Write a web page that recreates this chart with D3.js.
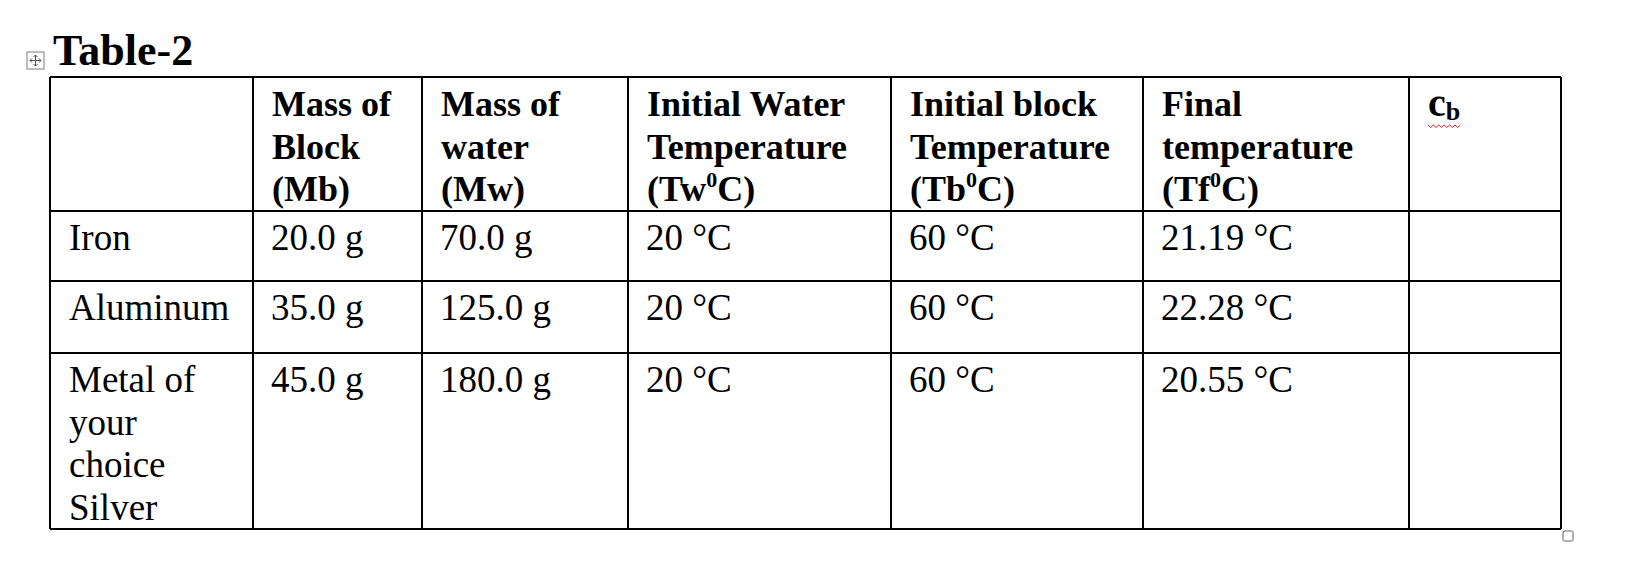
<!DOCTYPE html>
<html><head><meta charset="utf-8">
<script src="https://cdn.jsdelivr.net/npm/d3@7"></script>
<style>body{margin:0;background:#fff}svg{display:block}</style>
</head><body><svg width="1634" height="588"></svg>
<script>
// data
var title = "Table-2";
var headers = [
  [""],
  ["Mass of", "Block", "(Mb)"],
  ["Mass of", "water", "(Mw)"],
  ["Initial Water", "Temperature", "(Tw⁰C)"],
  ["Initial block", "Temperature", "(Tb⁰C)"],
  ["Final", "temperature", "(Tf⁰C)"],
  ["cb"]
];
var metals = [["Iron"], ["Aluminum"], ["Metal of", "your", "choice", "Silver"]];
var massBlock = ["20.0 g", "35.0 g", "45.0 g"];
var massWater = ["70.0 g", "125.0 g", "180.0 g"];
var tWater = ["20 °C", "20 °C", "20 °C"];
var tBlock = ["60 °C", "60 °C", "60 °C"];
var tFinal = ["21.19 °C", "22.28 °C", "20.55 °C"];
var cb = ["", "", ""];

// layout
var colX = [50, 253, 422, 628, 891, 1143, 1409, 1561];
var rowY = [77, 211, 281, 353, 529];
var lh = 42.5, pad = 19, fs = 36, fsBody = 37;

var svg = d3.select("svg");
var font = "'Liberation Serif','Times New Roman',serif";

svg.append("text").attr("x", 53).attr("y", 65)
  .attr("font-family", font).attr("font-weight", "bold").attr("font-size", 44)
  .text(title);

// move handle icon
var ic = svg.append("g").attr("transform", "translate(27,52)");
ic.append("rect").attr("width", 17).attr("height", 17).attr("fill", "#fff").attr("stroke", "#999").attr("stroke-width", 1.3);
ic.append("path").attr("d", "M8.5,3V14M3,8.5H14M6.5,5L8.5,3L10.5,5M6.5,12L8.5,14L10.5,12M5,6.5L3,8.5L5,10.5M12,6.5L14,8.5L12,10.5")
  .attr("stroke", "#555").attr("fill", "none").attr("stroke-width", 1);

// resize handle
svg.append("rect").attr("x", 1563).attr("y", 531).attr("width", 10).attr("height", 10).attr("rx", 2)
  .attr("fill", "#fff").attr("stroke", "#999").attr("stroke-width", 1.5);

// grid
var g = svg.append("g").attr("stroke", "#000").attr("stroke-width", 2);
g.selectAll("line.v").data(colX).join("line")
  .attr("x1", d => d).attr("x2", d => d).attr("y1", rowY[0]).attr("y2", rowY[rowY.length - 1]);
g.selectAll("line.h").data(rowY).join("line").attr("class", "h")
  .attr("y1", d => d).attr("y2", d => d).attr("x1", colX[0]).attr("x2", colX[colX.length - 1]);

// header
var firstBase = [116, 250, 320, 392];
headers.forEach(function (lines, c) {
  if (lines[0] === "cb") {
    var t = svg.append("text").attr("x", colX[c] + pad).attr("y", 116)
      .attr("font-family", font).attr("font-weight", "bold").attr("font-size", 40);
    t.append("tspan").text("c");
    t.append("tspan").attr("font-size", 26).attr("dy", 4).text("b");
    var x0 = colX[c] + pad, p = "M" + x0 + ",125";
    for (var i = 1; i <= 12; i++) p += "L" + (x0 + i * 2.7) + "," + (i % 2 ? 127.5 : 125);
    svg.append("path").attr("d", p).attr("stroke", "#e02020").attr("fill", "none").attr("stroke-width", 1);
    return;
  }
  lines.forEach(function (s, i) {
    var t = svg.append("text").attr("x", colX[c] + pad).attr("y", firstBase[0] + i * lh)
      .attr("font-family", font).attr("font-weight", "bold").attr("font-size", fs);
    var m = s.match(/^(.*)⁰(.*)$/);
    if (m) {
      t.append("tspan").text(m[1]);
      t.append("tspan").attr("font-size", 22).attr("dy", -14).text("0");
      t.append("tspan").attr("dy", 14).text(m[2]);
    } else t.text(s);
  });
});

// body rows
var body = metals.map(function (m, r) {
  return [m, [massBlock[r]], [massWater[r]], [tWater[r]], [tBlock[r]], [tFinal[r]], [cb[r]]];
});
body.forEach(function (row, r) {
  row.forEach(function (lines, c) {
    svg.append("g").selectAll("text").data(lines).join("text")
      .attr("x", colX[c] + (c === 0 ? 19 : pad - 1))
      .attr("y", (d, i) => firstBase[r + 1] + i * lh)
      .attr("font-family", font).attr("font-size", fsBody).text(d => d);
  });
});
</script></body></html>
